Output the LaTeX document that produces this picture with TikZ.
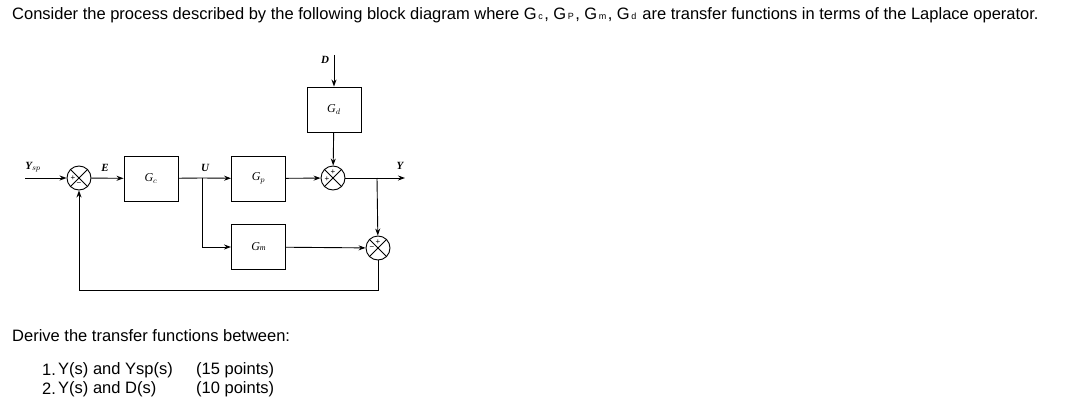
\documentclass[tikz,border=0pt]{standalone}
\usepackage{fontspec}
\setmainfont{Liberation Sans}
\newfontfamily\diag{Liberation Serif}
\usetikzlibrary{arrows.meta,calc}
\tikzset{
  blk/.style={draw,line width=0.9pt,minimum width=54pt,minimum height=45pt,font=\diag\itshape\fontsize{12}{12}\selectfont},
  sumj/.style={draw,circle,line width=0.9pt,minimum size=24pt,inner sep=0pt},
  sig/.style={-{Stealth[length=7pt,width=5pt]},line width=0.9pt},
  ln/.style={line width=0.9pt},
  lbl/.style={font=\diag\itshape\bfseries\fontsize{11}{11}\selectfont},
  sgn/.style={font=\fontsize{8}{8}\selectfont,inner sep=0pt},
  txt/.style={anchor=west,font=\fontsize{16.5}{19}\selectfont,inner sep=0pt}
}
\newcommand{\sumx}[1]{\draw[ln] (#1.north west)--(#1.south east) (#1.north east)--(#1.south west);}
\begin{document}
\begin{tikzpicture}[x=1pt,y=-1pt]
\useasboundingbox (0,0) rectangle (1070,412);
\node[txt] (title) at (12,15) {Consider the process described by the following block diagram where G{\fontsize{9}{9}\selectfont\,c\,}, G{\fontsize{9}{9}\selectfont\,P\,}, G{\fontsize{9}{9}\selectfont\,m\,}, G{\fontsize{9}{9}\selectfont\,d\,} are transfer functions in terms of the Laplace operator.};
% blocks
\node[blk] (gc) at (151,178.5) {G$_c$};
\node[blk] (gp) at (258.5,178.5) {G$_p$};
\node[blk] (gd) at (334,109.5) {G$_d$};
\node[blk] (gm) at (258.5,247) {G{\footnotesize m}};
% sums
\node[sumj] (s1) at (79,178) {}; \sumx{s1}
\node[sumj] (s2) at (333,178) {}; \sumx{s2}
\node[sumj] (s3) at (378,248) {}; \sumx{s3}
\node[sgn] at ($(s1.center)+(-6,0)$) {+};
\node[sgn] at ($(s1.center)+(0,6)$) {\textminus};
\node[sgn] at ($(s2.center)+(0,-6)$) {+};
\node[sgn] at ($(s2.center)+(-6,1)$) {+};
\node[sgn] at ($(s3.center)+(0,-6)$) {+};
\node[sgn] at ($(s3.center)+(-6,0)$) {\textminus};
% coordinates
\coordinate (ysp) at (25,178);
\coordinate (dtop) at (334,55);
\coordinate (u) at (202,178);
\coordinate (yb) at (377,178);
\coordinate (yend) at (405,178);
\coordinate (fb) at (378,290);
\coordinate (fb1) at (79,290);
% labels
\node[lbl] (lysp) at (33,167) {Y$_{sp}$};
\node[lbl] (le) at (105,168) {E};
\node[lbl] (lu) at (205,168) {U};
\node[lbl] (ly) at (400,166) {Y};
\node[lbl] (ld) at (325,60) {D};
% connectors
\draw[sig] (ysp) -- (s1);
\draw[sig] (s1) -- (gc);
\draw[ln] (gc) -- (u);
\draw[sig] (u) -- (gp);
\draw[sig] (u) |- (gm);
\draw[sig] (gp) -- (s2);
\draw[sig] (dtop) -- (gd);
\draw[sig] (gd) -- (s2);
\draw[sig] (s2) -- (yend);
\draw[sig] (yb) -- (s3);
\draw[sig] (gm) -- (s3);
\draw[ln] (s3) -- (fb) -- (fb1);
\draw[sig] (fb1) -- (s1);
% text
\node[txt] (q) at (12,336) {Derive the transfer functions between:};
\node[txt] (n1) at (42,370) {1.};
\node[txt] (a1) at (58,370) {Y(s) and Ysp(s)};
\node[txt] (p1) at (196,370) {(15 points)};
\node[txt] (n2) at (42,389) {2.};
\node[txt] (a2) at (58,389) {Y(s) and D(s)};
\node[txt] (p2) at (196,389) {(10 points)};
\end{tikzpicture}
\end{document}
